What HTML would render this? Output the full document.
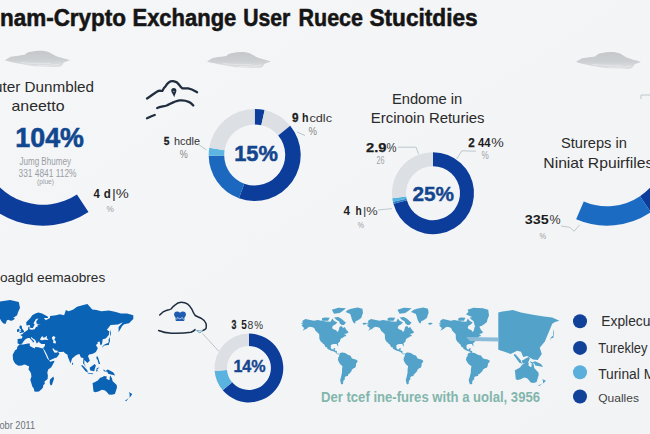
<!DOCTYPE html>
<html><head><meta charset="utf-8"><style>
html,body{margin:0;padding:0;width:650px;height:434px;overflow:hidden;background:#f3f5f7;}
svg{display:block;font-family:"Liberation Sans", sans-serif;}
</style></head><body>
<svg width="650" height="434" viewBox="0 0 650 434">
<defs>
<linearGradient id="bg" x1="0" y1="0" x2="1" y2="1">
<stop offset="0" stop-color="#f5f6f8"/><stop offset="1" stop-color="#f2f3f5"/>
</linearGradient>
<linearGradient id="cg" x1="0" y1="0" x2="0" y2="1"><stop offset="0" stop-color="#c5c7ca"/><stop offset="0.55" stop-color="#cccfd2"/><stop offset="1" stop-color="#dfe1e4"/></linearGradient>
<filter id="blur1"><feGaussianBlur stdDeviation="0.6"/></filter>
</defs>
<rect width="650" height="434" fill="url(#bg)"/>

<text x="0" y="25.8" font-size="23" fill="#151515" font-weight="bold" textLength="126" lengthAdjust="spacingAndGlyphs" stroke="#151515" stroke-width="0.55">nam-Crypto</text>
<text x="132.5" y="25.8" font-size="23" fill="#151515" font-weight="bold" textLength="103.8" lengthAdjust="spacingAndGlyphs" stroke="#151515" stroke-width="0.55">Exchange</text>
<text x="243.2" y="25.8" font-size="23" fill="#151515" font-weight="bold" textLength="47" lengthAdjust="spacingAndGlyphs" stroke="#151515" stroke-width="0.55">User</text>
<text x="298.6" y="25.8" font-size="23" fill="#151515" font-weight="bold" textLength="64.3" lengthAdjust="spacingAndGlyphs" stroke="#151515" stroke-width="0.55">Ruece</text>
<text x="369.4" y="25.8" font-size="23" fill="#151515" font-weight="bold" textLength="108.3" lengthAdjust="spacingAndGlyphs" stroke="#151515" stroke-width="0.55">Stucitdies</text>
<path d="M4.9,60.3 C8.2,58.1 10.8,56.8 12.3,56.6 C18.0,55.7 22.5,55.3 24.6,54.8 C26.4,53.2 27.1,52.4 31.0,51.8 C36.2,50.8 40.8,50.5 45.4,51.3 C50.0,52.1 51.9,54.0 55.8,56.1 C60.4,58.1 66.3,58.9 70.2,60.3 C66.9,61.5 64.3,62.1 63.0,63.4 C62.4,65.4 61.1,67.0 57.1,67.0 C47.3,66.7 37.5,66.7 32.3,65.9 C24.5,64.6 18.0,63.4 12.3,62.2 C8.8,61.5 6.9,61.2 4.9,60.3 Z" fill="url(#cg)" filter="url(#blur1)"/><path d="M21.2,62.5 C31.0,63.8 40.8,63.8 50.6,63.4" stroke="#e2e4e6" stroke-width="1" fill="none" filter="url(#blur1)"/><path d="M37.5,65.4 C44.1,65.7 53.9,65.4 60.4,64.1" stroke="#e6e8ea" stroke-width="0.8" fill="none" filter="url(#blur1)"/>
<path d="M207.0,61.4 C210.2,59.2 212.8,57.9 214.2,57.7 C219.8,56.8 224.3,56.5 226.3,56.0 C228.1,54.4 228.8,53.6 232.6,53.0 C237.7,52.0 242.2,51.7 246.7,52.5 C251.2,53.3 253.1,55.2 256.9,57.3 C261.4,59.2 267.2,60.0 271.0,61.4 C267.8,62.6 265.2,63.2 264.0,64.5 C263.3,66.4 262.0,68.0 258.2,68.0 C248.6,67.7 239.0,67.7 233.9,66.9 C226.2,65.6 219.8,64.5 214.2,63.3 C210.8,62.6 208.9,62.2 207.0,61.4 Z" fill="url(#cg)" filter="url(#blur1)"/><path d="M223.0,63.5 C232.6,64.8 242.2,64.8 251.8,64.5" stroke="#e2e4e6" stroke-width="1" fill="none" filter="url(#blur1)"/><path d="M239.0,66.4 C245.4,66.7 255.0,66.4 261.4,65.1" stroke="#e6e8ea" stroke-width="0.8" fill="none" filter="url(#blur1)"/>
<path d="M576.0,62.0 C579.2,59.6 581.9,58.3 583.3,58.1 C589.0,57.1 593.5,56.8 595.6,56.2 C597.5,54.5 598.1,53.7 602.0,53.0 C607.2,52.0 611.8,51.7 616.3,52.5 C620.9,53.4 622.8,55.4 626.7,57.6 C631.2,59.6 637.1,60.5 641.0,62.0 C637.8,63.2 635.1,63.9 633.9,65.3 C633.2,67.3 631.9,69.0 628.0,69.0 C618.2,68.7 608.5,68.7 603.3,67.8 C595.5,66.5 589.0,65.3 583.3,64.0 C579.9,63.2 578.0,62.9 576.0,62.0 Z" fill="url(#cg)" filter="url(#blur1)"/><path d="M592.2,64.2 C602.0,65.6 611.8,65.6 621.5,65.3" stroke="#e2e4e6" stroke-width="1" fill="none" filter="url(#blur1)"/><path d="M608.5,67.3 C615.0,67.6 624.8,67.3 631.2,65.9" stroke="#e6e8ea" stroke-width="0.8" fill="none" filter="url(#blur1)"/>
<path d="M88.49,211.99 A83,83 0 0 1 -35.19,171.09 L-15.46,163.91 A62,62 0 0 0 76.93,194.46Z" fill="#0c3d9b"/>
<text x="-6" y="91.7" font-size="14" fill="#2a2a2a" font-weight="normal" textLength="100" lengthAdjust="spacingAndGlyphs">uter Dunmbled</text>
<text x="11.5" y="110.8" font-size="15" fill="#2a2a2a" font-weight="normal" textLength="53" lengthAdjust="spacingAndGlyphs">aneetto</text>
<text x="15.3" y="147.3" font-size="28" fill="#10478f" font-weight="bold" textLength="68.6" lengthAdjust="spacingAndGlyphs" stroke="#10478f" stroke-width="0.6">104%</text>
<text x="19.4" y="165" font-size="10" fill="#9a9ea4" font-weight="normal" textLength="51.6" lengthAdjust="spacingAndGlyphs">Jumg Bhumey</text>
<text x="18.5" y="177" font-size="10" fill="#9a9ea4" font-weight="normal" textLength="58" lengthAdjust="spacingAndGlyphs">331 4841 112%</text>
<text x="37" y="184" font-size="7" fill="#9a9ea4" font-weight="normal" textLength="17" lengthAdjust="spacingAndGlyphs">(plue)</text>
<text x="93.5" y="197.7" font-size="12.5" fill="#1d1d1d" font-weight="bold" textLength="6.3" lengthAdjust="spacingAndGlyphs">4</text>
<text x="103.7" y="197.7" font-size="12.5" fill="#1d1d1d" font-weight="bold" textLength="7" lengthAdjust="spacingAndGlyphs">d</text>
<text x="112" y="197.7" font-size="12" fill="#333" font-weight="normal" textLength="16.8" lengthAdjust="spacingAndGlyphs">|%</text>
<text x="106.6" y="211.7" font-size="9" fill="#9a9ea4" font-weight="normal" textLength="7.4" lengthAdjust="spacingAndGlyphs">%</text>
<g fill="none" stroke="#1f2d3f" stroke-width="2.3" stroke-linecap="round" stroke-linejoin="round"><path d="M147,98.5 C151,96 155,92.5 158.5,90.9 C160,90.5 161.5,91 162.3,90.9 C163.5,88.5 164.5,87 165.4,86.5 C168,82 171,81 173,81.2 C176,81.5 178,83 179.4,85.2 C180.5,87 181.5,88 182.5,88.4 C185,88.4 187,88.4 188.2,88.4 C192,89 195,91 197.1,92.2"/><path d="M157.2,108 C160,107 163,106.5 166.7,105.5 C171,103.5 175,101 179.4,100.4 C184,100 187,101 188.2,101.7 C190.5,102.5 192,104 193.3,105.5"/><path d="M147,118.2 C149.5,117 152,115.8 154.7,115"/></g>
<path d="M171.2,90.6 A2.6,2.6 0 1,1 176.4,90.6 C176.4,92.5 175,94.5 174.2,97.2 C173.3,94.5 171.2,92.5 171.2,90.6 Z" fill="#1f2d3f"/>
<ellipse cx="173.8" cy="91.6" rx="1.2" ry="0.4" fill="#dfe4ea"/>
<path d="M254.70,109.00 A46,46 0 0 1 264.66,110.09 L261.30,125.22 A30.5,30.5 0 0 0 254.70,124.50Z" fill="#0c3d9b"/>
<path d="M264.66,110.09 A46,46 0 0 1 290.19,125.74 L278.23,135.60 A30.5,30.5 0 0 0 261.30,125.22Z" fill="#dcdfe4"/>
<path d="M290.19,125.74 A46,46 0 0 1 238.97,198.23 L244.27,183.66 A30.5,30.5 0 0 0 278.23,135.60Z" fill="#0c3d9b"/>
<path d="M238.97,198.23 A46,46 0 0 1 208.71,155.80 L224.20,155.53 A30.5,30.5 0 0 0 244.27,183.66Z" fill="#1c68bf"/>
<path d="M208.71,155.80 A46,46 0 0 1 209.27,147.80 L224.58,150.23 A30.5,30.5 0 0 0 224.20,155.53Z" fill="#5db6e2"/>
<path d="M209.27,147.80 A46,46 0 0 1 254.70,109.00 L254.70,124.50 A30.5,30.5 0 0 0 224.58,150.23Z" fill="#dcdfe4"/>
<text x="234.2" y="161.4" font-size="22" fill="#13468f" font-weight="bold" textLength="43.7" lengthAdjust="spacingAndGlyphs" stroke="#13468f" stroke-width="0.5">15%</text>
<text x="163.7" y="144.6" font-size="11" fill="#1d1d1d" font-weight="bold" textLength="5.7" lengthAdjust="spacingAndGlyphs" stroke="#1d1d1d" stroke-width="0.3">5</text>
<text x="174" y="144.6" font-size="11" fill="#333" font-weight="normal" textLength="26" lengthAdjust="spacingAndGlyphs">hcdle</text>
<text x="179.8" y="157.9" font-size="10" fill="#888" font-weight="normal" textLength="8" lengthAdjust="spacingAndGlyphs">%</text>
<text x="292" y="121.5" font-size="12.5" fill="#1d1d1d" font-weight="bold" textLength="6.5" lengthAdjust="spacingAndGlyphs" stroke="#1d1d1d" stroke-width="0.3">9</text>
<text x="302" y="121.5" font-size="12.5" fill="#1d1d1d" font-weight="bold" textLength="6.5" lengthAdjust="spacingAndGlyphs">h</text>
<text x="309.5" y="121.5" font-size="11" fill="#333" font-weight="normal" textLength="22.5" lengthAdjust="spacingAndGlyphs">cdlc</text>
<text x="308.5" y="135" font-size="10" fill="#888" font-weight="normal" textLength="8.5" lengthAdjust="spacingAndGlyphs">%</text>
<g stroke="#9fb0b8" stroke-width="0.7" fill="none"><path d="M197.7,144 L206.3,149.8"/><path d="M297,132 L305,135.5"/></g>
<path d="M433.00,152.20 A41,41 0 1 1 393.40,203.81 L406.92,200.19 A27,27 0 1 0 433.00,166.20Z" fill="#0c3d9b"/>
<path d="M393.40,203.81 A41,41 0 0 1 392.90,201.72 L406.59,198.81 A27,27 0 0 0 406.92,200.19Z" fill="#2f7fc8"/>
<path d="M392.90,201.72 A41,41 0 0 1 392.31,198.20 L406.20,196.49 A27,27 0 0 0 406.59,198.81Z" fill="#55b3e0"/>
<path d="M392.31,198.20 A41,41 0 0 1 433.00,152.20 L433.00,166.20 A27,27 0 0 0 406.20,196.49Z" fill="#dcdfe4"/>
<text x="391.9" y="104.1" font-size="14.5" fill="#2a2a2a" font-weight="normal" textLength="70.4" lengthAdjust="spacingAndGlyphs">Endome in</text>
<text x="370.8" y="122.6" font-size="14.5" fill="#2a2a2a" font-weight="normal" textLength="113.7" lengthAdjust="spacingAndGlyphs">Ercinoin Returies</text>
<text x="412.4" y="200.8" font-size="20.5" fill="#13468f" font-weight="bold" textLength="41.6" lengthAdjust="spacingAndGlyphs" stroke="#13468f" stroke-width="0.4">25%</text>
<text x="366" y="151.5" font-size="13" fill="#1d1d1d" font-weight="bold" textLength="20.5" lengthAdjust="spacingAndGlyphs" stroke="#1d1d1d" stroke-width="0.25">2.9</text>
<text x="386.5" y="151.5" font-size="12.5" fill="#333" font-weight="normal" textLength="10" lengthAdjust="spacingAndGlyphs">%</text>
<text x="376.5" y="164" font-size="10.5" fill="#a0a3a8" font-weight="normal" textLength="8" lengthAdjust="spacingAndGlyphs">26</text>
<text x="468.3" y="146.9" font-size="13" fill="#1d1d1d" font-weight="bold" textLength="6.5" lengthAdjust="spacingAndGlyphs" stroke="#1d1d1d" stroke-width="0.25">2</text>
<text x="478" y="146.9" font-size="12.5" fill="#1d1d1d" font-weight="bold" textLength="12.5" lengthAdjust="spacingAndGlyphs">44</text>
<text x="491.3" y="146.9" font-size="12.5" fill="#333" font-weight="normal" textLength="12.5" lengthAdjust="spacingAndGlyphs">%</text>
<text x="481.6" y="159.4" font-size="10" fill="#a0a3a8" font-weight="normal" textLength="7.3" lengthAdjust="spacingAndGlyphs">%</text>
<text x="343.5" y="215.1" font-size="12.5" fill="#1d1d1d" font-weight="bold" textLength="6.5" lengthAdjust="spacingAndGlyphs">4</text>
<text x="355.5" y="215.1" font-size="12.5" fill="#1d1d1d" font-weight="bold" textLength="6.2" lengthAdjust="spacingAndGlyphs">h</text>
<text x="363" y="215.1" font-size="11" fill="#444" font-weight="normal" textLength="14.7" lengthAdjust="spacingAndGlyphs">|%</text>
<text x="357.7" y="227.6" font-size="9" fill="#999" font-weight="normal" textLength="6.3" lengthAdjust="spacingAndGlyphs">%</text>
<g stroke="#a4b4bb" stroke-width="0.7" fill="none"><path d="M398,147.2 L416,147.2 L418.6,154"/><path d="M476,151.2 L461.9,150.8 L456.6,159"/><path d="M378,210 L392,208.6"/></g>
<path d="M685.10,154.13 A78.4,78.4 0 0 1 650.84,212.30 L639.99,196.21 A59,59 0 0 0 665.78,152.44Z" fill="#0c3d9b"/>
<path d="M650.84,212.30 A78.4,78.4 0 0 1 576.11,219.36 L583.76,201.53 A59,59 0 0 0 639.99,196.21Z" fill="#1c6bc2"/>
<text x="561" y="147.6" font-size="14.8" fill="#2a2a2a" font-weight="normal" textLength="65.9" lengthAdjust="spacingAndGlyphs">Stureps in</text>
<text x="543.3" y="168.2" font-size="14.8" fill="#2a2a2a" font-weight="normal" textLength="110" lengthAdjust="spacingAndGlyphs">Niniat Rpuirfiles</text>
<text x="524.8" y="223.5" font-size="12.5" fill="#1d1d1d" font-weight="bold" textLength="24" lengthAdjust="spacingAndGlyphs">335</text>
<text x="549.5" y="223.5" font-size="12.5" fill="#333" font-weight="normal" textLength="11.1" lengthAdjust="spacingAndGlyphs">%</text>
<text x="539.4" y="238.8" font-size="9" fill="#999" font-weight="normal" textLength="6.6" lengthAdjust="spacingAndGlyphs">%</text>
<g stroke="#a4b4bb" stroke-width="0.7" fill="none"><path d="M561,226 L570,227.3 L574,231.3 L579.7,224.8"/><path d="M650,95 L641,95 L641,99"/></g>
<text x="0" y="281.5" font-size="13.5" fill="#2a2a2a" font-weight="normal" textLength="105.2" lengthAdjust="spacingAndGlyphs">oagld eemaobres</text>
<text x="-0.5" y="429.3" font-size="10" fill="#6f7378" font-weight="normal" textLength="35.6" lengthAdjust="spacingAndGlyphs">obr 2011</text>
<polygon points="-12.0,306.9 -7.9,303.9 -1.5,301.7 10.1,300.0 18.8,302.0 20.0,308.0 18.0,312.3 17.1,315.3 14.2,317.2 10.1,319.4 6.9,320.3 5.5,324.0 3.1,323.2 1.1,320.7 -0.4,318.1 -1.2,314.8 -3.3,309.7 -8.5,308.0" fill="#0b63b6"/>
<polygon points="8.4,318.6 11.5,317.7 14.2,318.1 14.8,319.1 11.8,320.8 9.6,320.4" fill="#0b63b6"/>
<polygon points="19.6,333.2 24.0,332.2 24.1,330.9 23.0,329.7 21.9,327.9 22.0,326.4 21.0,325.5 20.0,325.5 19.4,327.0 19.7,328.4 21.3,329.3 20.3,330.2 21.3,331.9 19.7,331.7" fill="#0b63b6"/>
<polygon points="17.0,331.9 19.4,331.5 19.4,329.3 18.2,328.7 17.0,329.7" fill="#0b63b6"/>
<polygon points="17.6,343.5 17.6,338.9 21.9,338.5 22.5,336.5 20.3,334.9 22.5,334.0 24.3,332.3 25.5,331.5 28.0,329.7 28.3,327.0 29.5,326.5 29.5,329.3 31.7,329.7 34.7,329.3 36.0,327.0 37.8,326.5 37.5,324.6 40.8,324.2 36.6,323.7 36.3,321.2 38.4,318.6 36.0,319.1 33.5,323.2 34.7,324.6 32.9,327.9 30.4,327.9 29.8,325.1 26.5,325.6 26.2,322.2 30.4,318.1 32.3,315.3 35.3,313.6 38.4,312.4 42.1,313.6 47.6,316.4 48.2,318.1 43.9,318.1 45.7,320.2 50.0,318.1 50.0,315.9 56.1,315.3 59.8,314.2 64.1,315.3 65.9,310.0 68.4,311.2 70.8,310.6 73.3,309.4 77.0,306.8 84.3,304.8 87.4,304.1 92.3,309.4 96.5,310.0 101.4,311.2 108.8,310.6 114.9,311.8 121.0,313.6 127.1,313.6 133.3,315.3 133.3,319.1 132.0,320.2 129.0,323.2 124.1,324.2 122.2,326.1 118.6,332.3 118.6,327.0 122.9,322.2 118.0,324.6 110.6,325.1 106.9,329.7 109.4,331.5 108.8,334.9 105.7,338.5 102.7,339.3 102.0,344.2 100.5,345.3 99.6,341.6 97.5,342.0 97.8,343.5 95.9,345.0 97.8,348.2 95.9,352.1 92.9,353.8 89.2,354.5 88.0,356.1 89.8,360.8 87.4,363.1 84.3,360.1 84.3,364.1 86.4,367.6 83.1,363.4 83.4,358.1 80.9,357.5 79.4,354.1 77.6,354.5 75.7,355.5 72.1,358.5 70.5,363.4 67.8,356.8 67.5,354.8 64.7,353.1 63.8,351.8 60.4,352.1 58.0,351.7 57.6,350.7 54.9,350.3 53.7,348.6 52.5,348.6 52.8,350.0 54.0,351.7 54.6,352.7 57.4,352.4 57.6,351.2 59.5,353.8 56.8,357.5 54.9,358.1 49.4,360.5 47.0,354.8 44.5,350.0 43.0,348.2 44.8,346.1 45.1,343.9 41.5,343.9 39.3,342.4 39.0,341.2 37.8,342.7 36.6,343.5 36.0,341.6 35.0,339.7 32.9,338.5 31.4,336.9 30.8,338.1 32.9,340.1 34.4,341.2 32.9,342.7 32.6,341.2 29.5,338.1 28.0,338.1 26.2,338.7 24.9,339.7 23.1,342.0 22.8,342.7 21.9,343.7 20.0,344.2" fill="#0b63b6"/>
<polygon points="12.7,354.8 13.0,359.5 13.9,361.4 15.1,363.4 16.4,364.4 18.5,365.7 21.9,365.4 24.3,364.5 26.2,364.9 27.1,365.8 28.9,366.1 28.9,368.0 28.5,369.6 30.1,371.5 31.1,373.8 31.4,376.7 30.3,379.7 32.3,386.5 33.8,388.6 34.4,391.5 36.6,391.7 39.0,391.4 41.5,389.3 43.0,387.6 43.3,385.1 44.8,384.1 44.5,381.4 47.6,379.1 47.9,375.8 47.3,372.5 48.2,369.6 51.3,367.3 54.3,361.8 54.4,360.8 50.0,361.8 49.5,360.8 47.3,358.5 45.7,354.8 44.8,353.1 43.0,348.6 40.8,347.9 38.4,347.3 35.3,347.1 34.7,348.4 32.6,347.5 29.8,346.1 29.8,343.5 28.0,343.5 23.1,344.6 19.7,344.2 17.3,346.8 17.0,348.9 15.1,350.3 13.9,352.4" fill="#0b63b6"/>
<polygon points="92.6,383.1 93.5,391.5 95.3,392.2 98.4,391.5 102.0,389.7 105.1,390.4 107.2,392.6 108.8,394.5 111.8,394.8 114.9,394.1 117.0,387.6 116.7,385.1 114.6,383.1 112.5,381.1 112.1,378.4 110.3,375.6 109.7,377.1 109.7,379.7 108.5,380.1 106.3,378.4 106.9,376.4 103.9,376.0 102.7,377.1 100.2,377.7 97.8,380.4 94.1,382.4" fill="#0b63b6"/>
<polygon points="49.7,383.1 50.6,385.5 51.9,385.1 54.0,378.7 53.4,376.4 50.0,379.4" fill="#0b63b6"/>
<polygon points="102.7,347.9 103.6,345.7 105.7,345.3 108.8,345.0 109.4,342.4 110.0,341.2 109.7,336.9 108.5,339.7 108.8,341.2 108.2,343.1 106.6,343.5 104.5,344.6 102.7,346.1" fill="#0b63b6"/>
<polygon points="81.4,365.0 82.8,365.4 84.6,367.3 87.1,369.9 88.0,372.5 85.5,371.2 83.4,368.6 81.4,366.0" fill="#0b63b6"/>
<polygon points="87.4,372.8 93.2,373.5 92.9,374.3 88.0,373.5" fill="#0b63b6"/>
<polygon points="89.8,367.6 91.0,366.8 94.7,364.1 95.9,365.4 95.0,368.3 94.1,371.2 90.4,370.5 89.8,368.9" fill="#0b63b6"/>
<polygon points="95.9,372.2 96.8,368.0 99.6,367.6 97.2,369.2 98.4,371.8 97.2,370.5" fill="#0b63b6"/>
<polygon points="103.3,369.2 105.7,370.9 107.6,369.6 109.4,370.2 113.4,372.5 115.2,375.4 110.9,374.4 108.2,373.8 107.2,371.8 103.9,371.2" fill="#0b63b6"/>
<polygon points="96.5,356.5 97.8,356.5 99.0,360.5 100.2,364.1 98.7,364.1 97.5,359.8 96.5,358.8" fill="#0b63b6"/>
<polygon points="71.9,364.7 72.1,362.2 73.2,363.7 72.7,364.7" fill="#0b63b6"/>
<polygon points="128.7,391.9 132.3,394.1 130.2,397.1 125.0,400.7 126.2,401.2 129.6,397.1 129.6,393.7" fill="#0b63b6"/>
<polygon points="110.0,336.5 110.9,334.0 110.4,329.5 110.0,332.3" fill="#0b63b6"/>
<polygon points="51.9,337.3 53.7,336.1 55.5,337.3 54.3,339.7 55.8,341.2 55.8,343.5 53.1,343.1 53.4,340.8 52.2,338.9" fill="#f3f5f7"/>
<polygon points="40.2,340.1 40.5,338.5 42.1,336.1 43.6,337.7 45.4,336.9 47.0,335.7 46.7,337.9 48.5,340.1 44.5,339.7 42.1,340.3" fill="#f3f5f7"/>
<g fill="none" stroke="#1f2d40" stroke-width="1.5" stroke-linecap="round"><path d="M159.7,314.9 C162,312.5 164,311 166.2,310.6 C168,310 170,309.7 171,309 C172.5,307 173.5,305.8 174.8,305.2 C177,303 179,302.3 181.2,302.3 C184,302.3 186,303 187.7,304.2 C190,306 191,308 192,309.5 C193,312 194,314 195.2,315.5 C197.5,317 200,317.5 201.7,318.7 C204,320 205.5,322 206,323.5 C206.5,325.5 206.5,327 206,328.4 C205,329.5 204,330 202.8,330.5"/><path d="M158.6,330.5 C162,332 166,333 171.5,333.2 C180,333.5 186,333 190.9,332.2 C193,331.5 194.5,330.5 195.2,329.5"/></g>
<g fill="#1f5bb0"><circle cx="177.2" cy="314.6" r="3.1"/><circle cx="182.8" cy="314.6" r="3.1"/><rect x="175.6" y="315.5" width="8.8" height="5.6" rx="1.2"/></g>
<path d="M195.2,329.5 C197,331 199,332.5 200,333 C201,332 202,331 202.8,330.5 M197,330.5 L203,331.2" stroke="#6aa6b8" stroke-width="0.9" fill="none"/>
<path d="M176.3,319.6 L177.5,317.5 L179.9,319 L182.3,317.5 L183.5,319.6" stroke="#e6ecf5" stroke-width="0.7" fill="none"/>
<path d="M202.4,333.4 L218.9,351.4" stroke="#9fb0b8" stroke-width="0.7" fill="none"/>
<path d="M248.90,333.60 A34.4,34.4 0 1 1 222.74,390.34 L232.17,382.29 A22,22 0 1 0 248.90,346.00Z" fill="#0c3d9b"/>
<path d="M222.74,390.34 A34.4,34.4 0 0 1 214.63,371.00 L226.98,369.92 A22,22 0 0 0 232.17,382.29Z" fill="#5ab2df"/>
<path d="M214.63,371.00 A34.4,34.4 0 0 1 248.90,333.60 L248.90,346.00 A22,22 0 0 0 226.98,369.92Z" fill="#dcdfe4"/>
<text x="233.4" y="372" font-size="16.5" fill="#13468f" font-weight="bold" textLength="32.3" lengthAdjust="spacingAndGlyphs" stroke="#13468f" stroke-width="0.35">14%</text>
<text x="231.5" y="328.5" font-size="12" fill="#1d1d1d" font-weight="bold" textLength="4.9" lengthAdjust="spacingAndGlyphs" stroke="#1d1d1d" stroke-width="0.3">3</text>
<text x="241.2" y="328.5" font-size="12" fill="#1d1d1d" font-weight="bold" textLength="5.6" lengthAdjust="spacingAndGlyphs">5</text>
<text x="247.5" y="329.4" font-size="10.5" fill="#333" font-weight="normal" textLength="5.8" lengthAdjust="spacingAndGlyphs">8</text>
<text x="254.2" y="329.4" font-size="11" fill="#333" font-weight="normal" textLength="8.8" lengthAdjust="spacingAndGlyphs">%</text>
<polygon points="300.5,323.3 303.0,322.6 302.2,321.0 305.4,318.9 310.3,319.9 313.8,320.7 317.7,319.9 323.2,321.0 326.3,321.4 330.6,321.8 332.3,318.6 334.0,320.7 337.4,322.6 335.3,324.4 332.9,325.8 332.1,327.8 332.9,329.1 336.1,330.2 337.4,331.9 338.5,330.7 339.6,326.8 341.7,326.1 343.0,328.1 344.8,326.9 346.3,329.7 348.6,332.2 346.9,333.4 344.1,334.0 345.2,334.5 346.5,335.9 344.3,336.5 342.4,338.1 340.9,338.6 340.0,340.5 340.0,341.5 337.9,343.2 338.3,345.7 337.9,346.4 337.2,345.0 336.6,344.0 334.4,343.9 332.3,344.2 330.8,345.2 330.8,347.8 331.6,349.3 333.4,349.4 333.8,348.3 335.3,348.0 334.7,350.4 336.9,351.0 336.8,352.9 337.7,353.8 338.7,353.5 339.5,354.0 338.3,354.5 337.2,354.1 335.9,352.9 335.1,352.0 333.1,351.3 331.2,350.7 327.3,348.7 327.3,347.6 325.4,346.9 324.3,344.5 323.2,344.0 322.4,342.7 320.9,341.7 319.4,338.9 319.2,334.2 317.7,332.8 315.5,330.7 314.2,328.1 312.5,327.3 309.9,326.8 307.6,327.8 306.5,329.1 304.8,329.4 302.6,330.7 304.3,328.1 303.0,327.1 301.8,325.8 301.8,324.7 303.5,324.0" fill="#52a2c9"/>
<polygon points="339.5,354.0 340.2,353.1 341.7,352.5 342.4,352.4 345.2,353.1 346.7,354.0 348.2,355.1 350.3,355.6 351.2,357.1 351.8,358.2 353.6,358.9 355.9,359.6 357.6,360.7 357.4,362.1 356.1,363.6 355.9,365.9 355.1,367.8 353.6,368.3 351.8,369.7 351.6,370.9 350.3,372.6 349.1,374.1 348.0,374.6 348.0,375.9 346.0,376.2 344.8,377.2 344.8,379.4 343.5,380.5 343.0,382.8 343.2,383.7 341.7,384.6 340.9,383.4 340.2,379.9 341.1,376.7 342.0,372.6 342.0,369.2 342.5,366.2 340.0,364.1 338.5,361.2 337.9,359.8 338.3,358.2 338.1,357.4 338.9,356.7 339.4,354.7" fill="#52a2c9"/>
<polygon points="338.3,317.0 341.7,319.1 344.8,321.8 346.0,322.6 343.9,325.1 341.7,325.1 339.6,323.3 339.2,321.4 336.6,319.9 334.0,317.4" fill="#52a2c9"/>
<polygon points="334.0,313.8 339.6,312.9 342.6,310.9 346.0,308.2 338.3,307.7 331.8,309.8" fill="#52a2c9"/>
<polygon points="322.0,320.7 328.0,320.7 329.7,317.8 324.5,317.4 322.0,318.2" fill="#52a2c9"/>
<polygon points="362.4,323.3 364.5,322.7 366.5,322.9 366.9,323.7 364.7,324.8 363.2,324.5" fill="#52a2c9"/>
<polygon points="345.5,312.1 347.7,310.1 351.2,308.7 357.6,307.5 362.4,308.8 363.0,312.8 361.9,315.7 361.4,317.7 359.8,318.9 357.6,320.4 355.8,321.0 355.0,323.5 353.8,323.0 352.7,321.3 351.9,319.5 351.4,317.4 350.3,314.0 347.4,312.8" fill="#52a2c9"/>
<polygon points="366.1,323.3 368.6,322.6 367.8,321.0 371.0,318.9 375.9,319.9 379.4,320.7 383.3,319.9 388.8,321.0 391.9,321.4 396.2,321.8 397.9,318.6 399.6,320.7 403.0,322.6 400.9,324.4 398.5,325.8 397.7,327.8 398.5,329.1 401.7,330.2 403.0,331.9 404.1,330.7 405.2,326.8 407.3,326.1 408.6,328.1 410.3,326.9 411.9,329.7 414.2,332.2 412.5,333.4 409.7,334.0 410.8,334.5 412.1,335.9 409.9,336.5 408.0,338.1 406.5,338.6 405.6,340.5 405.6,341.5 403.5,343.2 403.9,345.7 403.5,346.4 402.8,345.0 402.2,344.0 400.0,343.9 397.9,344.2 396.4,345.2 396.4,347.8 397.2,349.3 399.0,349.4 399.4,348.3 400.9,348.0 400.3,350.4 402.5,351.0 402.4,352.9 403.3,353.8 404.3,353.5 405.1,354.0 403.9,354.5 402.8,354.1 401.5,352.9 400.7,352.0 398.7,351.3 396.8,350.7 392.9,348.7 392.9,347.6 391.0,346.9 389.9,344.5 388.8,344.0 388.0,342.7 386.5,341.7 385.0,338.9 384.8,334.2 383.3,332.8 381.1,330.7 379.8,328.1 378.1,327.3 375.5,326.8 373.2,327.8 372.1,329.1 370.4,329.4 368.2,330.7 369.9,328.1 368.6,327.1 367.3,325.8 367.3,324.7 369.1,324.0" fill="#52a2c9"/>
<polygon points="405.1,354.0 405.8,353.1 407.3,352.5 408.0,352.4 410.8,353.1 412.3,354.0 413.8,355.1 415.9,355.6 416.8,357.1 417.4,358.2 419.2,358.9 421.5,359.6 423.2,360.7 423.0,362.1 421.7,363.6 421.5,365.9 420.7,367.8 419.2,368.3 417.4,369.7 417.2,370.9 415.9,372.6 414.6,374.1 413.6,374.6 413.6,375.9 411.6,376.2 410.3,377.2 410.3,379.4 409.1,380.5 408.6,382.8 408.8,383.7 407.3,384.6 406.5,383.4 405.8,379.9 406.7,376.7 407.6,372.6 407.6,369.2 408.1,366.2 405.6,364.1 404.1,361.2 403.5,359.8 403.9,358.2 403.7,357.4 404.5,356.7 405.0,354.7" fill="#52a2c9"/>
<polygon points="403.9,317.0 407.3,319.1 410.3,321.8 411.6,322.6 409.5,325.1 407.3,325.1 405.2,323.3 404.8,321.4 402.2,319.9 399.6,317.4" fill="#52a2c9"/>
<polygon points="399.6,313.8 405.2,312.9 408.2,310.9 411.6,308.2 403.9,307.7 397.4,309.8" fill="#52a2c9"/>
<polygon points="387.6,320.7 393.6,320.7 395.3,317.8 390.1,317.4 387.6,318.2" fill="#52a2c9"/>
<polygon points="428.0,323.3 430.1,322.7 432.1,322.9 432.5,323.7 430.3,324.8 428.8,324.5" fill="#52a2c9"/>
<polygon points="411.1,312.1 413.3,310.1 416.8,308.7 423.2,307.5 428.0,308.8 428.6,312.8 427.5,315.7 427.0,317.7 425.4,318.9 423.2,320.4 421.4,321.0 420.6,323.5 419.4,323.0 418.3,321.3 417.5,319.5 417.0,317.4 415.9,314.0 413.0,312.8" fill="#52a2c9"/>
<polygon points="438.3,323.3 440.7,322.6 439.9,321.0 442.9,318.9 447.5,319.9 450.7,320.7 454.3,319.9 459.5,321.0 462.3,321.4 466.3,321.8 467.9,318.6 469.5,320.7 472.7,322.6 470.7,324.4 468.5,325.8 467.7,327.8 468.5,329.1 471.5,330.2 472.7,331.9 473.7,330.7 474.7,326.8 476.7,326.1 477.9,328.1 479.5,326.9 480.9,329.7 483.1,332.2 481.5,333.4 478.9,334.0 479.9,334.5 481.1,335.9 479.1,336.5 477.3,338.1 475.9,338.6 475.1,340.5 475.1,341.5 473.1,343.2 473.5,345.7 473.1,346.4 472.5,345.0 471.9,344.0 469.9,343.9 467.9,344.2 466.5,345.2 466.5,347.8 467.3,349.3 468.9,349.4 469.3,348.3 470.7,348.0 470.2,350.4 472.2,351.0 472.1,352.9 472.9,353.8 473.9,353.5 474.6,354.0 473.5,354.5 472.5,354.1 471.3,352.9 470.5,352.0 468.7,351.3 466.9,350.7 463.3,348.7 463.3,347.6 461.5,346.9 460.5,344.5 459.5,344.0 458.7,342.7 457.3,341.7 455.9,338.9 455.7,334.2 454.3,332.8 452.3,330.7 451.1,328.1 449.5,327.3 447.1,326.8 444.9,327.8 443.9,329.1 442.3,329.4 440.3,330.7 441.9,328.1 440.7,327.1 439.5,325.8 439.5,324.7 441.1,324.0" fill="#52a2c9"/>
<polygon points="473.5,317.0 476.7,319.1 479.5,321.8 480.7,322.6 478.7,325.1 476.7,325.1 474.7,323.3 474.3,321.4 471.9,319.9 469.5,317.4" fill="#52a2c9"/>
<polygon points="469.5,313.8 474.7,312.9 477.5,310.9 480.7,308.2 473.5,307.7 467.5,309.8" fill="#52a2c9"/>
<polygon points="458.3,320.7 463.9,320.7 465.5,317.8 460.7,317.4 458.3,318.2" fill="#52a2c9"/>
<polygon points="466.0,314.3 468.9,311.6 473.5,309.6 481.9,308.0 488.2,309.8 489.0,315.4 487.5,319.3 486.9,322.0 484.8,323.7 481.9,325.8 479.6,326.6 478.5,330.0 476.9,329.3 475.4,327.0 474.4,324.6 473.7,321.6 472.3,316.9 468.5,315.4" fill="#52a2c9"/>
<polygon points="467.8,354.0 468.7,353.1 470.6,352.5 471.3,352.4 474.7,353.1 476.5,354.0 478.4,355.1 481.0,355.6 482.0,357.1 482.8,358.2 484.9,358.9 487.7,359.6 489.8,360.7 489.5,362.1 488.0,363.6 487.7,365.9 486.7,367.8 484.9,368.3 482.8,369.7 482.5,370.9 481.0,372.6 479.4,374.1 478.1,374.6 478.1,375.9 475.8,376.2 474.2,377.2 474.2,379.4 472.6,380.5 472.1,382.8 472.4,383.7 470.6,384.6 469.5,383.4 468.7,379.9 469.8,376.7 470.8,372.6 470.9,369.2 471.5,366.2 468.5,364.1 466.7,361.2 465.9,359.8 466.4,358.2 466.1,357.4 467.2,356.7 467.7,354.7" fill="#52a2c9"/>
<polygon points="498.3,312.4 502.4,311.4 512.8,310 521,312.4 531.5,314.5 543.9,316.6 552.2,317.6 559.4,320.7 555,322 552.2,323.8 550.1,329 547,336.3 544.9,341.4 539.7,347.7 541.8,353.9 537.7,360 533,359.5 527.3,356 523.2,357 521,351.8 517,350.8 510.7,353.9 504.5,351.8 498.3,349.7" fill="#52a2c9"/>
<polygon points="522.0,360.5 523.6,359.7 528.4,357.0 530.0,358.3 528.8,361.1 527.6,364.0 522.8,363.4 522.0,361.8" fill="#52a2c9"/>
<polygon points="514.0,354.0 515.6,354.4 517.9,357.0 520.9,360.5 522.0,364.0 519.0,362.3 516.4,358.8 514.0,355.3" fill="#52a2c9"/>
<polygon points="530.0,361.0 532.7,362.6 534.7,361.3 536.7,361.9 541.0,364.1 543.0,367.0 538.3,366.0 535.3,365.4 534.3,363.5 530.7,362.9" fill="#52a2c9"/>
<polygon points="536.0,350.0 537.3,350.0 538.7,353.7 540.0,357.0 538.3,357.0 537.0,353.1 536.0,352.2" fill="#52a2c9"/>
<polygon points="550.0,341.0 550.5,338.6 551.7,338.2 553.3,337.8 553.7,335.0 554.0,333.7 553.8,329.0 553.2,332.0 553.3,333.7 553.0,335.8 552.2,336.2 551.0,337.4 550.0,339.0" fill="#52a2c9"/>
<polygon points="514.9,370.3 515.8,379.3 517.6,380.1 520.6,379.3 524.1,377.4 527.1,378.2 529.2,380.5 530.7,382.5 533.6,382.9 536.6,382.1 538.7,375.1 538.4,372.5 536.3,370.3 534.2,368.1 533.9,365.2 532.2,362.2 531.6,363.8 531.6,366.7 530.4,367.0 528.3,365.2 528.9,363.1 525.9,362.6 524.7,363.8 522.3,364.5 520.0,367.4 516.4,369.6" fill="#52a2c9"/>
<polygon points="542.0,379.0 546.0,380.7 543.7,383.0 538.0,385.6 539.3,386.0 543.0,383.0 543.0,380.4" fill="#52a2c9"/>
<path d="M466,337 L498,337.5 L498,341.5 L470,341 Z" fill="#8cbcd8"/>
<text x="321" y="402.3" font-size="14" fill="#82b6ac" font-weight="bold" textLength="219" lengthAdjust="spacingAndGlyphs">Der tcef ine-fures with a uolal, 3956</text>
<circle cx="580" cy="321.2" r="7" fill="#12419a"/>
<circle cx="580" cy="347.9" r="7" fill="#12419a"/>
<circle cx="580" cy="372.3" r="7" fill="#5aafdb"/>
<circle cx="580" cy="396.5" r="7" fill="#12419a"/>
<text x="601.3" y="325.6" font-size="13.8" fill="#2d2d2d" font-weight="normal">Explecue</text>
<text x="598.2" y="352.7" font-size="13.8" fill="#2d2d2d" font-weight="normal" textLength="49.3" lengthAdjust="spacingAndGlyphs">Turekley</text>
<text x="598.2" y="378.9" font-size="13.8" fill="#2d2d2d" font-weight="normal">Turinal M</text>
<text x="598.2" y="401.9" font-size="11" fill="#444" font-weight="normal" textLength="40.7" lengthAdjust="spacingAndGlyphs">Qualles</text>
</svg></body></html>
